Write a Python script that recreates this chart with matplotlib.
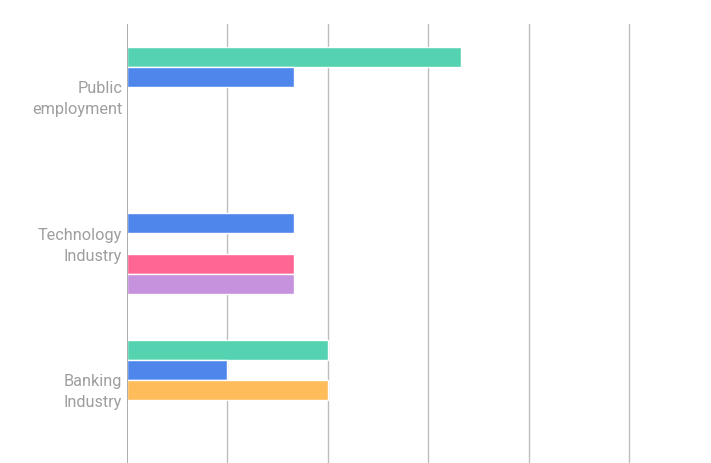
import matplotlib.pyplot as plt
import numpy as np

plt.rcParams['font.family'] = ['Roboto', 'DejaVu Sans']

# categories, top to bottom
categories = ['Public\nemployment', 'Technology\nIndustry', 'Banking\nIndustry']

# one list per series (0 = no bar)
series_green = [3.33, 0, 2]
series_blue = [1.67, 1.67, 1]
series_orange = [0, 0, 2]
series_pink = [0, 1.67, 0]
series_purple = [0, 1.67, 0]

series = [series_green, series_blue, series_orange, series_pink, series_purple]
colors = ['#55d3b1', '#4e86ec', '#ffbc5b', '#ff6694', '#c792dd']

fig = plt.figure(figsize=(7.11, 4.63), dpi=100)
ax = fig.add_axes([126.5 / 711, 0, (700 - 126.5) / 711, (463 - 24) / 463])

y = np.arange(len(categories))
bar_h = 20 / 146
for i, (vals, c) in enumerate(zip(series, colors)):
    offs = (i - 2) * bar_h
    ax.barh(y + offs, vals, height=bar_h, color=c, edgecolor='white',
            linewidth=1, zorder=3)

ax.set_xlim(0, (700 - 126.5) / 100.5)
ax.set_ylim(len(categories) - 0.5, -0.5)

# vertical gridlines
for gx in [1, 2, 3, 4, 5]:
    ax.axvline(gx, color='#bdbdbd', linewidth=1, zorder=1)
ax.axvline(0, color='#9e9e9e', linewidth=1.2, zorder=4)

ax.set_xticks([])
ax.set_yticks(y - 0.015)
ax.set_yticklabels(categories, color='#9e9e9e', fontsize=11.7, linespacing=1.5)
ax.tick_params(axis='y', length=0, pad=3)
for s in ax.spines.values():
    s.set_visible(False)

plt.savefig('out.png', dpi=100)
